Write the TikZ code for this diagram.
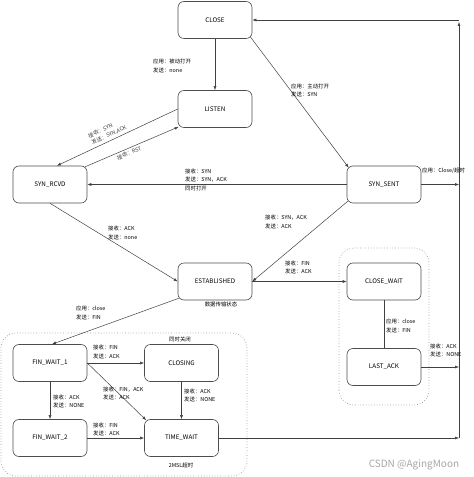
\documentclass[tikz,border=0pt]{standalone}
\usepackage{fontspec}
\setmainfont{Noto Sans CJK SC}
\usetikzlibrary{arrows.meta,positioning}

\begin{document}
\begin{tikzpicture}[x=1pt,y=1pt,node distance=75pt,>={Latex[length=4pt,width=3pt]}]

    \tikzstyle{tcpstate}=[draw=black!70,rounded corners=6pt,minimum width=74pt,minimum height=37pt,line width=0.6pt,font=\fontsize{6.3}{7}\selectfont]
    \tikzstyle{lbl}=[anchor=west,align=left,inner sep=0pt,font=\fontsize{5.4}{8.5}\selectfont]
    \tikzstyle{slbl}=[align=left,inner sep=1pt,font=\fontsize{5.4}{7.5}\selectfont]
    \tikzstyle{group}=[draw=black!40,dotted,rounded corners=15pt,line width=0.7pt]

    \useasboundingbox (0,0) rectangle (474,477);

    \draw[group] (1,1) rectangle (247,144);
    \draw[group] (339,72) rectangle (429,229);

    \node[tcpstate] (CLOSE)       at (215,457)                            {CLOSE};
    \node[tcpstate] (LISTEN)      at (215,368)                            {LISTEN};
    \node[tcpstate] (SYN_RCVD)    at (50,292.5)                           {SYN\_RCVD};
    \node[tcpstate] (SYN_SENT)    at (384,292.5)                          {SYN\_SENT};
    \node[tcpstate] (ESTABLISHED) at (215,195.5)                          {ESTABLISHED};
    \node[tcpstate] (CLOSE_WAIT)  at (384,195.5)                          {CLOSE\_WAIT};
    \node[tcpstate] (LAST_ACK)    [below of=CLOSE_WAIT,node distance=85.5pt] {LAST\_ACK};
    \node[tcpstate] (FIN_WAIT_1)  at (50,114)                             {FIN\_WAIT\_1};
    \node[tcpstate] (CLOSING)     [right of=FIN_WAIT_1,node distance=131.5pt] {CLOSING};
    \node[tcpstate] (FIN_WAIT_2)  [below of=FIN_WAIT_1]                   {FIN\_WAIT\_2};
    \node[tcpstate] (TIME_WAIT)   [below of=CLOSING]                      {TIME\_WAIT};

    \coordinate (busTop) at (459,457);
    \coordinate (busBot) at (459,39);

    \path[->,color=black!75,line width=0.5pt]
    (CLOSE)       edge (LISTEN)
    ([shift={(-2,2)}]CLOSE.south east) edge ([shift={(2,-2)}]SYN_SENT.north west)
    (LISTEN.west) edge node[slbl,sloped,above=1.5pt,pos=0.55] {接收：SYN\\发送：SYN,ACK} ([xshift=7pt]SYN_RCVD.north)
    ([shift={(-2,-1)}]SYN_RCVD.north east) edge node[slbl,sloped,below=1pt,pos=0.45] {接收：RST} ([shift={(1,1)}]LISTEN.south west)
    (SYN_SENT)    edge (SYN_RCVD)
    (SYN_RCVD.south) edge (ESTABLISHED.west)
    ([shift={(1,2)}]SYN_SENT.south west) edge (ESTABLISHED.east)
    (ESTABLISHED) edge (CLOSE_WAIT)
    ([shift={(1,2)}]ESTABLISHED.south west) edge ([xshift=2pt]FIN_WAIT_1.north)
    (FIN_WAIT_1)  edge (CLOSING)
    (FIN_WAIT_1)  edge (FIN_WAIT_2)
    (FIN_WAIT_1.east) edge ([shift={(2,-1)}]TIME_WAIT.north west)
    (CLOSING)     edge (TIME_WAIT)
    (FIN_WAIT_2)  edge (TIME_WAIT)
    (SYN_SENT)    edge (SYN_SENT -| busTop)
    (LAST_ACK)    edge (LAST_ACK -| busTop)
    (TIME_WAIT)   edge (TIME_WAIT -| busTop)
    (busBot)      edge ([yshift=-2pt]busTop)
    (busTop)      edge (CLOSE);
    \draw[color=black!75,line width=0.5pt] (CLOSE_WAIT) -- (LAST_ACK);

    % transition labels
    \node[lbl] (lblPassive) at (153,411)   {应用：被动打开\\发送：none};
    \node[lbl] (lblActive)  at (291,386.5) {应用：主动打开\\发送：SYN};
    \node[lbl] (lblSimOpen) at (185,297.5) {接收：SYN\\发送：SYN，ACK\\同时打开};
    \node[lbl] (lblTimeout) at (422,306)   {应用：Close/超时};
    \node[lbl] (lblRcvdAck) at (108,244)   {接收：ACK\\发送：none};
    \node[lbl] (lblSentAck) at (265,255)   {接收：SYN，ACK\\发送：ACK};
    \node[lbl] (lblPassFin) at (285,209.5) {接收：FIN\\发送：ACK};
    \node[lbl] (lblActClose) at (76,164)   {应用：close\\发送：FIN};
    \node[lbl] (lblPasClose) at (386,151)  {应用：close\\发送：FIN};
    \node[lbl] (lblLastAck) at (430,126.5) {接收：ACK\\发送：NONE};
    \node[lbl] (lblFw1Fin)  at (93,125)    {接收：FIN\\发送：ACK};
    \node[lbl] (lblFw1Both) at (103,83.5)  {接收：FIN，ACK\\发送：ACK};
    \node[lbl] (lblFw1Ack)  at (53,75.5)   {接收：ACK\\发送：NONE};
    \node[lbl] (lblClsAck)  at (184,81.5)  {接收：ACK\\发送：NONE};
    \node[lbl] (lblFw2Fin)  at (93,47.5)   {接收：FIN\\发送：ACK};

    \node[slbl] (lblData)   [below=0.5pt of ESTABLISHED,xshift=6pt] {数据传输状态};
    \node[slbl] (lblSimClose) at (180,138) {同时关闭};
    \node[slbl] (lbl2msl)   at (181,12)    {2MSL超时};

    \node[text=black!35,font=\fontsize{10}{12}\selectfont] (mark) at (414,12) {CSDN @AgingMoon};
\end{tikzpicture}
\end{document}
